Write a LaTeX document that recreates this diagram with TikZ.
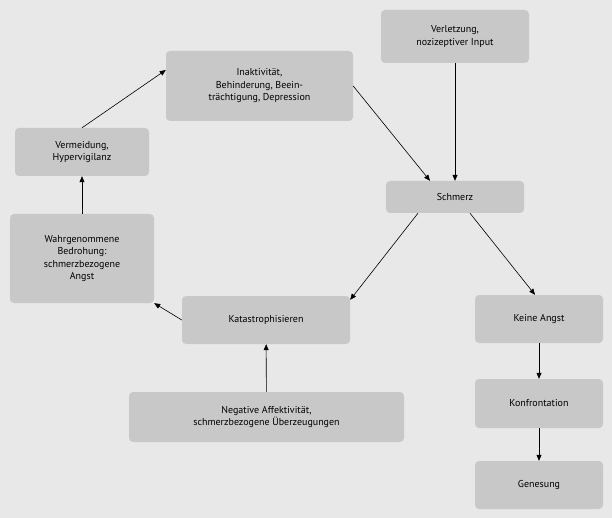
\documentclass[tikz,border=0pt]{standalone}
\usepackage{fontspec}
\setmainfont{PT Sans}
\usetikzlibrary{arrows.meta, positioning, calc}
\begin{document}
\begin{tikzpicture}[x=1pt, y=-1pt,
  box/.style={fill=boxgray, rounded corners=4pt, align=center, inner sep=0pt,
    font=\fontsize{10}{12.5}\selectfont},
  arr/.style={-{Triangle[length=6pt,width=5pt]}, line width=0.6pt}]
\definecolor{boxgray}{HTML}{C8C8C9}
\definecolor{bggray}{HTML}{E8E8E8}
\fill[bggray] (0,0) rectangle (612,518);
\useasboundingbox (0,0) rectangle (612,518);
\node (verl) [box, minimum width=148pt, minimum height=53pt] at (455,36.5) {Verletzung,\\nozizeptiver Input};
\node (inakt) [box, minimum width=187pt, minimum height=70pt] at (259.5,86) {Inaktivität,\\Behinderung, Beein-\\trächtigung, Depression};
\node (verm) [box, minimum width=134pt, minimum height=48pt] at (82,152) {Vermeidung,\\Hypervigilanz};
\node (schmerz) [box, minimum width=138pt, minimum height=32pt] at (455,197) {Schmerz};
\node (bedr) [box, minimum width=144pt, minimum height=89pt] at (82,258.5) {Wahrgenommene\\Bedrohung:\\schmerzbezogene\\Angst};
\node (kata) [box, minimum width=168pt, minimum height=48pt] at (266,320) {Katastrophisieren};
\node (keine) [box, minimum width=128pt, minimum height=48pt] at (539,319) {Keine Angst};
\node (neg) [box, minimum width=275pt, minimum height=50pt] at (266.5,417) {Negative Affektivität,\\schmerzbezogene Überzeugungen};
\node (konf) [box, minimum width=128pt, minimum height=49pt] at (539,403.5) {Konfrontation};
\node (genes) [box, minimum width=128pt, minimum height=48pt] at (539,485) {Genesung};
%Kreislauf:
\draw [arr] (verl) -- (schmerz);
\draw [arr] ($(inakt.east)+(0,0)$) -- ($(schmerz.north)+(-25,0)$);
\draw [arr] ($(schmerz.south)+(-37,0)$) -- ($(kata.north east)+(0,4)$);
\draw [arr] ($(schmerz.south)+(15,0)$) -- ($(keine.north)+(-4,0)$);
\draw [arr] (kata.west) -- (bedr.south east);
\draw [arr] (bedr) -- (verm);
\draw [arr] (verm.north) -- ($(inakt.west)+(0,-16)$);
\draw [arr] (neg) -- (kata);
\draw [arr] (keine) -- (konf);
\draw [arr] (konf) -- (genes);
\end{tikzpicture}
\end{document}
